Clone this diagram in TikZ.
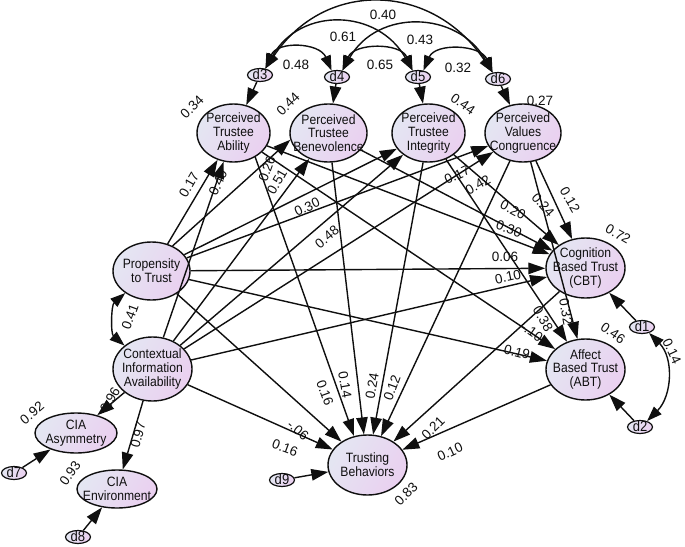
\documentclass[tikz,border=0pt]{standalone}
\usepackage{fontspec}
\setmainfont{Liberation Sans}
\newfontfamily\amosfont[FakeStretch=0.9]{Liberation Sans}
\usetikzlibrary{shapes.geometric,arrows.meta}
\definecolor{fillA}{RGB}{228,230,242}
\definecolor{fillB}{RGB}{234,208,240}
\definecolor{inkc}{RGB}{15,15,15}
\newcommand{\dlab}[1]{\raisebox{-4.6pt}[0pt][0pt]{#1}}
\begin{document}
\begin{tikzpicture}[x=1pt,y=-1pt,
  latent/.style={ellipse, draw=inkc, line width=1.4pt, left color=fillA, right color=fillB, shading angle=60, inner sep=0pt},
  ltext/.style={align=center, inner sep=0pt, text=inkc, font=\amosfont\fontsize{13.5}{13.8}\selectfont},
  err/.style={ellipse, draw=inkc, line width=1.2pt, left color=fillA, right color=fillB, shading angle=60, inner sep=0pt, minimum width=25pt, minimum height=13pt, text=inkc, font=\amosfont\fontsize{14.5}{14.5}\selectfont},
  lab/.style={inner sep=0pt, text=inkc, font=\fontsize{13.5}{13.5}\selectfont},
  pth/.style={draw=inkc, line width=1.4pt, -{Triangle[length=17pt,width=11.5pt]}},
  cov/.style={draw=inkc, line width=1.4pt, {Triangle[length=15pt,width=10.5pt]}-{Triangle[length=15pt,width=10.5pt]}}]
\fill[white] (0,0) rectangle (685,546);
\useasboundingbox (0,0) rectangle (685,546);

% latent variables
\node[latent, minimum width=73pt, minimum height=58pt] (PTA) at (233.5,133) {};
\node[ltext] (PTAt) at (PTA.center) {Perceived\\Trustee\\Ability};
\node[latent, minimum width=77pt, minimum height=58pt] (PTB) at (328.5,133) {};
\node[ltext] (PTBt) at (PTB.center) {Perceived\\Trustee\\Benevolence};
\node[latent, minimum width=73pt, minimum height=58pt] (PTI) at (428.5,133) {};
\node[ltext] (PTIt) at (PTI.center) {Perceived\\Trustee\\Integrity};
\node[latent, minimum width=76pt, minimum height=58pt] (PVC) at (523,133) {};
\node[ltext] (PVCt) at (PVC.center) {Perceived\\Values\\Congruence};
\node[latent, minimum width=77pt, minimum height=58pt] (PT) at (151.5,271) {};
\node[ltext] (PTt) at (PT.center) {Propensity\\to Trust};
\node[latent, minimum width=79pt, minimum height=64pt] (CIA) at (152.5,369) {};
\node[ltext] (CIAt) at (CIA.center) {Contextual\\Information\\Availability};
\node[latent, minimum width=79pt, minimum height=60pt] (CBT) at (585.5,268) {};
\node[ltext] (CBTt) at (CBT.center) {Cognition\\Based Trust\\(CBT)};
\node[latent, minimum width=79pt, minimum height=61pt] (ABT) at (585.5,369.5) {};
\node[ltext] (ABTt) at (ABT.center) {Affect\\Based Trust\\(ABT)};
\node[latent, minimum width=79pt, minimum height=60pt] (TB) at (367.5,465) {};
\node[ltext] (TBt) at (TB.center) {Trusting\\Behaviors};
\node[latent, minimum width=82pt, minimum height=40pt] (CAS) at (76,433) {};
\node[ltext] (CASt) at (CAS.center) {CIA\\Asymmetry};
\node[latent, minimum width=80pt, minimum height=38pt] (CEN) at (117,489) {};
\node[ltext] (CENt) at (CEN.center) {CIA\\Environment};

% error terms
\node[err] (d1) at (642,327) {\dlab{d1}};
\node[err] (d2) at (640,427) {\dlab{d2}};
\node[err] (d3) at (260,75) {\dlab{d3}};
\node[err] (d4) at (337,77) {\dlab{d4}};
\node[err] (d5) at (418,77) {\dlab{d5}};
\node[err] (d6) at (498,79) {\dlab{d6}};
\node[err] (d7) at (14,473) {\dlab{d7}};
\node[err] (d8) at (78,537) {\dlab{d8}};
\node[err] (d9) at (282,480) {\dlab{d9}};

% paths to mediators
\draw[pth] (PT) -- (PTA);
\draw[pth] (CIA) -- (PTA);
\draw[pth] (PT.50) -- (PTB.190);
\draw[pth] (CIA) -- (PTB);
\draw[pth] (PT) -- (PTI);
\draw[pth] (CIA) -- (PTI);
\draw[pth] (PT) -- (PVC);
\draw[pth] (CIA) -- (PVC);
% paths to CBT
\draw[pth] (PTA) -- (CBT);
\draw[pth] (PTB) -- (CBT);
\draw[pth] (PTI) -- (CBT);
\draw[pth] (PVC) -- (CBT);
\draw[pth] (PT) -- (CBT);
\draw[pth] (CIA) -- (CBT);
% paths to ABT
\draw[pth] (PTA) -- (ABT);
\draw[pth] (PTI) -- (ABT);
\draw[pth] (PVC) -- (ABT);
\draw[pth] (PT) -- (ABT);
% paths to TB
\draw[pth] (PTA.-48) -- (TB.115);
\draw[pth] (PTB) -- (TB);
\draw[pth] (PTI) -- (TB);
\draw[pth] (PVC) -- (TB);
\draw[pth] (PT) -- (TB);
\draw[pth] (CIA) -- (TB);
\draw[pth] (CBT) -- (TB);
\draw[pth] (ABT) -- (TB);
% indicators
\draw[pth] (CIA) -- (CAS);
\draw[pth] (CIA) -- (CEN);
% errors
\draw[pth] (d1) -- (CBT);
\draw[pth] (d2) -- (ABT);
\draw[pth] (d3) -- (PTA);
\draw[pth] (d4) -- (PTB);
\draw[pth] (d5) -- (PTI);
\draw[pth] (d6) -- (PVC);
\draw[pth] (d7) -- (CAS);
\draw[pth] (d8) -- (CEN);
\draw[pth] (d9) -- (TB);

% covariances
\draw[cov] (d3.50) .. controls +(12,-28) and +(-12,-28) .. (d4.130);
\draw[cov] (d4.50) .. controls +(12,-28) and +(-12,-28) .. (d5.130);
\draw[cov] (d5.50) .. controls +(12,-28) and +(-12,-28) .. (d6.130);
\draw[cov] (d3.50) .. controls +(35,-62) and +(-35,-62) .. (d5.130);
\draw[cov] (d4.50) .. controls +(35,-62) and +(-35,-62) .. (d6.130);
\draw[cov] (d3.50) .. controls +(60,-90) and +(-60,-90) .. (d6.130);
\draw[cov] (PT.220) .. controls +(-14,12) and +(-14,-12) .. (CIA.140);
\draw[cov] (d1.-40) .. controls +(25,25) and +(25,-25) .. (d2.40);

% covariance labels
\node[lab] (c1) at (383,15) {0.40};
\node[lab] (c2) at (343,37) {0.61};
\node[lab] (c3) at (420,40) {0.43};
\node[lab] (c4) at (296,65) {0.48};
\node[lab] (c5) at (380,65) {0.65};
\node[lab] (c6) at (458,68) {0.32};
\node[lab, rotate=70] (c7) at (130,317) {0.41};
\node[lab, rotate=-65] (c8) at (672,351) {0.14};

% squared multiple correlations
\node[lab, rotate=45] (r1) at (192,107) {0.34};
\node[lab, rotate=45] (r2) at (288,104) {0.44};
\node[lab, rotate=-35] (r3) at (463,104) {0.44};
\node[lab] (r4) at (540,101) {0.27};
\node[lab, rotate=-30] (r5) at (618,234) {0.72};
\node[lab, rotate=-35] (r6) at (613,333) {0.46};
\node[lab, rotate=45] (r7) at (406,494) {0.83};
\node[lab, rotate=40] (r8) at (32,413) {0.92};
\node[lab, rotate=55] (r9) at (70,473) {0.93};

% path coefficients
\node[lab, rotate=60] (p1) at (189,185) {0.17};
\node[lab, rotate=65] (p2) at (218,183) {0.49};
\node[lab, rotate=70] (p3) at (267,169) {0.26};
\node[lab, rotate=60] (p4) at (277,182) {0.51};
\node[lab, rotate=25] (p5) at (307,207) {0.30};
\node[lab, rotate=40] (p6) at (327,237) {0.48};
\node[lab, rotate=25] (p7) at (457,175) {0.17};
\node[lab, rotate=30] (p8) at (478,185) {0.42};
\node[lab, rotate=-28] (p9) at (513,210) {0.20};
\node[lab, rotate=-20] (p10) at (509,229) {0.30};
\node[lab, rotate=-48] (p11) at (543,205) {0.24};
\node[lab, rotate=-60] (p12) at (570,200) {0.12};
\node[lab] (p13) at (505,257) {0.06};
\node[lab, rotate=12] (p14) at (508,277) {0.10};
\node[lab, rotate=-60] (p15) at (543,319) {0.38};
\node[lab, rotate=-80] (p16) at (566,312) {0.32};
\node[lab, rotate=-35] (p17) at (532,332) {-.10};
\node[lab, rotate=-15] (p18) at (517,352) {0.19};
\node[lab, rotate=45] (p19) at (433,428) {0.21};
\node[lab, rotate=25] (p20) at (450,452) {0.10};
\node[lab, rotate=-70] (p21) at (325,393) {0.16};
\node[lab, rotate=-80] (p22) at (345,385) {0.14};
\node[lab, rotate=80] (p23) at (372,386) {0.24};
\node[lab, rotate=70] (p24) at (392,388) {0.12};
\node[lab, rotate=-40] (p25) at (298,430) {-.06};
\node[lab, rotate=-20] (p26) at (285,448) {0.16};
\node[lab, rotate=60] (p27) at (110,400) {0.96};
\node[lab, rotate=75] (p28) at (138,435) {0.97};
\end{tikzpicture}
\end{document}
